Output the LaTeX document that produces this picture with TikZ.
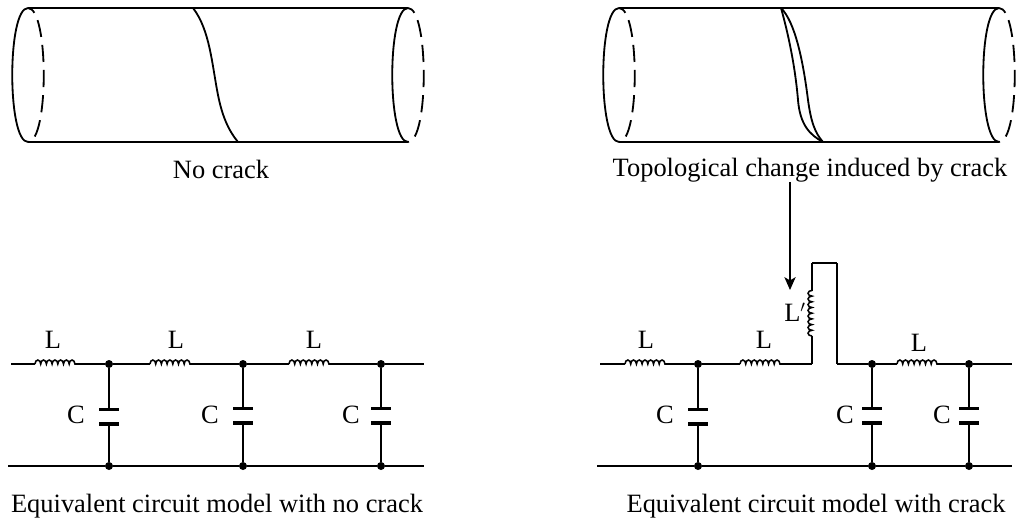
\documentclass[tikz,border=0pt]{standalone}
\usepackage{fontspec}
\setmainfont{Liberation Serif}
\usetikzlibrary{decorations.pathmorphing,arrows.meta}
\begin{document}
\begin{tikzpicture}[x=0.025cm,y=-0.025cm,
    wire/.style ={line width=1.3pt},
    junction/.style ={circle, fill, inner sep = 0pt, minimum size=2mm},
    plate/.style ={rectangle, fill, inner sep = 0pt, minimum width=5.2mm, minimum height=0.85mm},
    coil/.style ={line width=1.1pt, decorate, decoration={bumps, segment length=2.85mm, amplitude=1mm}},
    hidden/.style ={wire, dash pattern=on 4.3mm off 2mm, dash phase=2.25mm},
    caption/.style ={font=\fontsize{18.8}{22}\selectfont, inner sep=0pt, anchor=base},
    value/.style ={font=\fontsize{18.8}{22}\selectfont, inner sep=0pt}]
   \useasboundingbox (0,0) rectangle (1024,522);

   % tubes
   \draw[wire] (28,8) -- (408,8);
   \draw[wire] (28,142) -- (408,142);
   \draw[wire] (28,8) .. controls (7,8) and (7,142) .. (28,142);
   \draw[wire] (408,8) .. controls (387,8) and (387,142) .. (408,142);
   \draw[hidden] (28,8) .. controls (49,8) and (49,142) .. (28,142);
   \draw[hidden] (408,8) .. controls (429,8) and (429,142) .. (408,142);
   \draw[wire] (193,8) .. controls (210,30) and (212,65) .. (218,95) .. controls (222,115) and (228,130) .. (238,142);

   \draw[wire] (619,8) -- (999,8);
   \draw[wire] (619,142) -- (999,142);
   \draw[wire] (619,8) .. controls (598,8) and (598,142) .. (619,142);
   \draw[wire] (999,8) .. controls (978,8) and (978,142) .. (999,142);
   \draw[hidden] (619,8) .. controls (640,8) and (640,142) .. (619,142);
   \draw[hidden] (999,8) .. controls (1020,8) and (1020,142) .. (999,142);
   \draw[wire] (781,8) .. controls (788,33) and (795,65) .. (798,100) .. controls (800,125) and (810,135) .. (823,142);
   \draw[wire] (781,8) .. controls (795,22) and (803,60) .. (808,100) .. controls (811,122) and (815,133) .. (823,142);

   \node[caption] (nocrack) at (221,178) {No crack};
   \node[caption] (crack) at (810,176) {Topological change induced by crack};
   \node[caption] (modelA) at (217,512) {Equivalent circuit model with no crack};
   \node[caption] (modelB) at (816,512) {Equivalent circuit model with crack};

   % circuit with no crack
   \coordinate (A0) at (11,364);
   \coordinate (A1) at (35,364);
   \coordinate (A2) at (79,364);
   \node[junction] (J1) at (109,364) {};
   \coordinate (A3) at (150,364);
   \coordinate (A4) at (195,364);
   \node[junction] (J2) at (243,364) {};
   \coordinate (A5) at (289,364);
   \coordinate (A6) at (333,364);
   \node[junction] (J3) at (381,364) {};
   \coordinate (A7) at (424,364);
   \coordinate (G0) at (8,466);
   \node[junction] (K1) at (109,466) {};
   \node[junction] (K2) at (243,466) {};
   \node[junction] (K3) at (381,466) {};
   \coordinate (G4) at (424,466);
   \node[plate] (P1) at (109,409.5) {};
   \node[plate] (Q1) at (109,424) {};
   \node[plate] (P2) at (243,408.5) {};
   \node[plate] (Q2) at (243,423) {};
   \node[plate] (P3) at (381,408.5) {};
   \node[plate] (Q3) at (381,423) {};
   \node[value] (LA1) at (53,340) {L};
   \node[value] (LA2) at (176,340) {L};
   \node[value] (LA3) at (314,340) {L};
   \node[value] (CA1) at (76,415) {C};
   \node[value] (CA2) at (210,415) {C};
   \node[value] (CA3) at (351,415) {C};

   \draw[wire] (A0) to (A1);
   \draw[coil] (A1) to (A2);
   \draw[wire] (A2) to (J1);
   \draw[wire] (J1) to (A3);
   \draw[coil] (A3) to (A4);
   \draw[wire] (A4) to (J2);
   \draw[wire] (J2) to (A5);
   \draw[coil] (A5) to (A6);
   \draw[wire] (A6) to (J3);
   \draw[wire] (J3) to (A7);
   \draw[wire] (G0) to (K1);
   \draw[wire] (K1) to (K2);
   \draw[wire] (K2) to (K3);
   \draw[wire] (K3) to (G4);
   \draw[wire] (J1) to (P1);
   \draw[wire] (Q1) to (K1);
   \draw[wire] (J2) to (P2);
   \draw[wire] (Q2) to (K2);
   \draw[wire] (J3) to (P3);
   \draw[wire] (Q3) to (K3);

   % circuit with crack
   \coordinate (B0) at (600,364);
   \coordinate (B1) at (625,364);
   \coordinate (B2) at (669,364);
   \node[junction] (M1) at (698,364) {};
   \coordinate (B3) at (740,364);
   \coordinate (B4) at (784,364);
   \coordinate (T1) at (812,364);
   \coordinate (T2) at (812,336);
   \coordinate (T3) at (812,290);
   \coordinate (T4) at (812,263);
   \coordinate (T5) at (837,263);
   \coordinate (T6) at (837,364);
   \node[junction] (M2) at (872,364) {};
   \coordinate (B5) at (897,364);
   \coordinate (B6) at (941,364);
   \node[junction] (M3) at (969,364) {};
   \coordinate (B7) at (1012,364);
   \coordinate (H0) at (597,466);
   \node[junction] (N1) at (698,466) {};
   \node[junction] (N2) at (872,466) {};
   \node[junction] (N3) at (969,466) {};
   \coordinate (H4) at (1012,466);
   \node[plate] (R1) at (698,409.5) {};
   \node[plate] (S1) at (698,424) {};
   \node[plate] (R2) at (872,408.5) {};
   \node[plate] (S2) at (872,423) {};
   \node[plate] (R3) at (969,408.5) {};
   \node[plate] (S3) at (969,423) {};
   \node[value] (LB1) at (646,340) {L};
   \node[value] (LB2) at (764,340) {L};
   \node[value] (LB3) at (919,343) {L};
   \node[value] (LB4) at (795,312) {L$'$};
   \node[value] (CB1) at (665,415) {C};
   \node[value] (CB2) at (845,415) {C};
   \node[value] (CB3) at (942,415) {C};
   \coordinate (Z) at (790,290);

   \draw[wire] (B0) to (B1);
   \draw[coil] (B1) to (B2);
   \draw[wire] (B2) to (M1);
   \draw[wire] (M1) to (B3);
   \draw[coil] (B3) to (B4);
   \draw[wire] (B4) to (T1);
   \draw[wire] (T1) to (T2);
   \draw[coil] (T2) to (T3);
   \draw[wire] (T3) to (T4);
   \draw[wire] (T4) to (T5);
   \draw[wire] (T5) to (T6);
   \draw[wire] (T6) to (M2);
   \draw[wire] (M2) to (B5);
   \draw[coil] (B5) to (B6);
   \draw[wire] (B6) to (M3);
   \draw[wire] (M3) to (B7);
   \draw[wire] (H0) to (N1);
   \draw[wire] (N1) to (N2);
   \draw[wire] (N2) to (N3);
   \draw[wire] (N3) to (H4);
   \draw[wire] (M1) to (R1);
   \draw[wire] (S1) to (N1);
   \draw[wire] (M2) to (R2);
   \draw[wire] (S2) to (N2);
   \draw[wire] (M3) to (R3);
   \draw[wire] (S3) to (N3);
   \draw[wire, -{Stealth[length=3.2mm,width=2.8mm,inset=0.8mm]}] (crack.south -| Z) to (Z);
 \end{tikzpicture}
\end{document}
